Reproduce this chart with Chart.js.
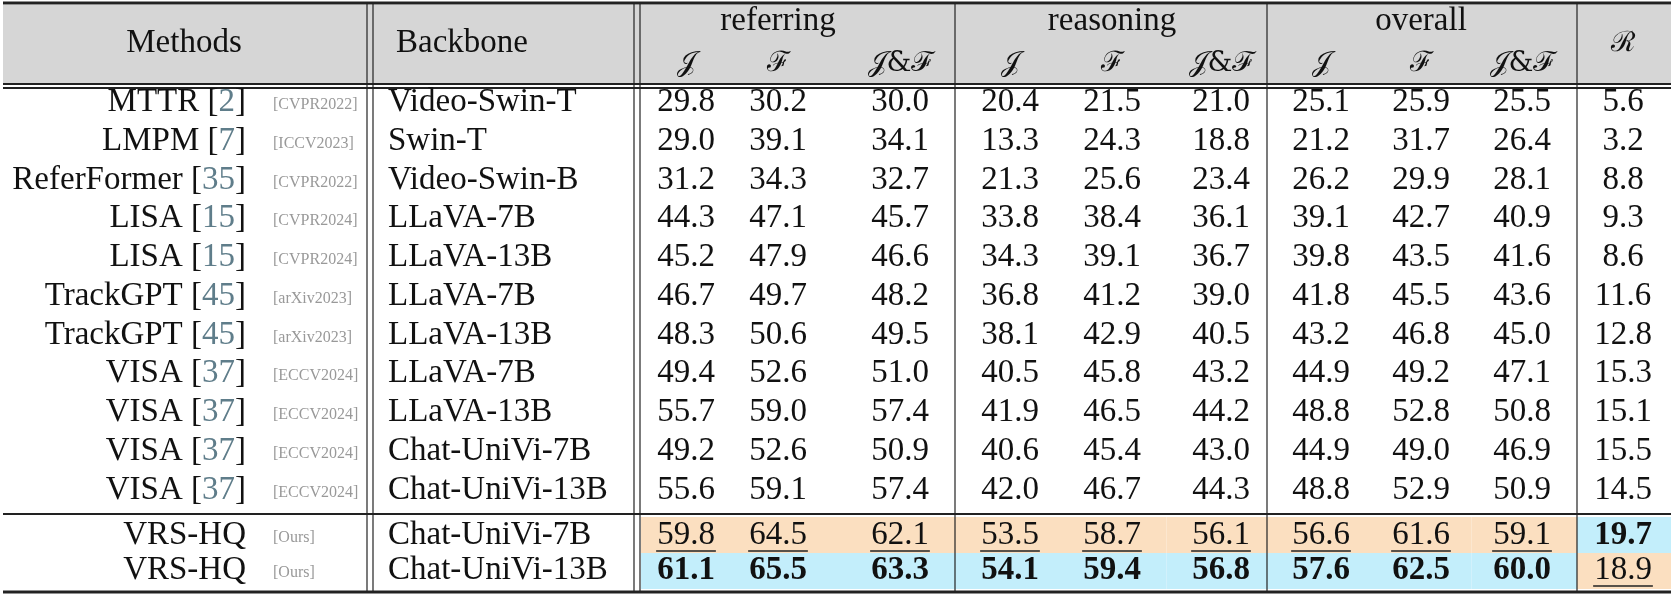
<!DOCTYPE html>
<html>
<head>
<meta charset="utf-8">
<script src="https://cdn.jsdelivr.net/npm/chart.js@4"></script>
<style>
  body { margin: 0; background: #fff; }
  #wrap { width: 1675px; height: 597px; }
</style>
</head>
<body>
<div id="wrap"><canvas id="tabela" width="1675" height="597"></canvas></div>
<script>
// dados da tabela
const metodos = ['MTTR', 'LMPM', 'ReferFormer', 'LISA', 'LISA', 'TrackGPT', 'TrackGPT', 'VISA', 'VISA', 'VISA', 'VISA', 'VRS-HQ', 'VRS-HQ'];
const refs = ['2', '7', '35', '15', '15', '45', '45', '37', '37', '37', '37', '', ''];
const venues = ['CVPR2022', 'ICCV2023', 'CVPR2022', 'CVPR2024', 'CVPR2024', 'arXiv2023', 'arXiv2023', 'ECCV2024', 'ECCV2024', 'ECCV2024', 'ECCV2024', 'Ours', 'Ours'];
const backbones = ['Video-Swin-T', 'Swin-T', 'Video-Swin-B', 'LLaVA-7B', 'LLaVA-13B', 'LLaVA-7B', 'LLaVA-13B', 'LLaVA-7B', 'LLaVA-13B', 'Chat-UniVi-7B', 'Chat-UniVi-13B', 'Chat-UniVi-7B', 'Chat-UniVi-13B'];
const grupos = ['referring', 'reasoning', 'overall'];
const subCols = ['𝒥', 'ℱ', '𝒥&ℱ'];
const referringJ  = [29.8, 29.0, 31.2, 44.3, 45.2, 46.7, 48.3, 49.4, 55.7, 49.2, 55.6, 59.8, 61.1];
const referringF  = [30.2, 39.1, 34.3, 47.1, 47.9, 49.7, 50.6, 52.6, 59.0, 52.6, 59.1, 64.5, 65.5];
const referringJF = [30.0, 34.1, 32.7, 45.7, 46.6, 48.2, 49.5, 51.0, 57.4, 50.9, 57.4, 62.1, 63.3];
const reasoningJ  = [20.4, 13.3, 21.3, 33.8, 34.3, 36.8, 38.1, 40.5, 41.9, 40.6, 42.0, 53.5, 54.1];
const reasoningF  = [21.5, 24.3, 25.6, 38.4, 39.1, 41.2, 42.9, 45.8, 46.5, 45.4, 46.7, 58.7, 59.4];
const reasoningJF = [21.0, 18.8, 23.4, 36.1, 36.7, 39.0, 40.5, 43.2, 44.2, 43.0, 44.3, 56.1, 56.8];
const overallJ  = [25.1, 21.2, 26.2, 39.1, 39.8, 41.8, 43.2, 44.9, 48.8, 44.9, 48.8, 56.6, 57.6];
const overallF  = [25.9, 31.7, 29.9, 42.7, 43.5, 45.5, 46.8, 49.2, 52.8, 49.0, 52.9, 61.6, 62.5];
const overallJF = [25.5, 26.4, 28.1, 40.9, 41.6, 43.6, 45.0, 47.1, 50.8, 46.9, 50.9, 59.1, 60.0];
const rScore = [5.6, 3.2, 8.8, 9.3, 8.6, 11.6, 12.8, 15.3, 15.1, 15.5, 14.5, 19.7, 18.9];

const colunasNum = [referringJ, referringF, referringJF, reasoningJ, reasoningF, reasoningJF, overallJ, overallF, overallJF, rScore];

// layout (unidades do eixo = pixels do quadro)
const colX = [686, 778, 900, 1010, 1112, 1221, 1321, 1421, 1522, 1623];
const rowY = [102, 141, 180, 218, 257, 296, 335, 373, 412, 451, 490, 535, 570];
const SERIF = '"Liberation Serif", "Times New Roman", serif';
const FS = '33px ';
const LARANJA = '#fbdfc0';
const AZUL = '#c3eefb';

function estiloCelula(linha, col) {
    // melhor = negrito/azul, segundo = sublinhado/laranja
    if (linha === 11) return col === 9 ? { bg: AZUL, bold: true } : { bg: LARANJA, under: true };
    if (linha === 12) return col === 9 ? { bg: LARANJA, under: true } : { bg: AZUL, bold: true };
    return {};
}

const desenhaTabela = {
    id: 'desenhaTabela',
    afterDraw(chart) {
        const ctx = chart.ctx;
        const sx = v => chart.scales.x.getPixelForValue(v);
        const sy = v => chart.scales.y.getPixelForValue(v);
        ctx.save();

        // cabeçalho
        ctx.fillStyle = '#d6d6d6';
        ctx.fillRect(sx(3), sy(5), sx(1671) - sx(3), sy(84) - sy(5));

        // fundos destacados
        const faixas = [[517, 553], [553, 589]];
        for (let l = 11; l <= 12; l++) {
            for (let c = 0; c < 10; c++) {
                const st = estiloCelula(l, c);
                const x0 = c === 0 ? 641 : (colX[c - 1] + colX[c]) / 2;
                let x1 = c === 9 ? 1671 : (colX[c] + colX[c + 1]) / 2;
                let xa = x0;
                if (c === 9) xa = 1577;
                if (c === 8) x1 = 1577;
                if (c === 3) xa = 955; if (c === 2) x1 = 955;
                if (c === 6) xa = 1267; if (c === 5) x1 = 1267;
                ctx.fillStyle = st.bg;
                ctx.fillRect(sx(xa), sy(faixas[l - 11][0]), sx(x1) - sx(xa), sy(faixas[l - 11][1]) - sy(faixas[l - 11][0]));
            }
        }

        // linhas
        ctx.strokeStyle = '#222';
        const hline = (y, w) => { ctx.lineWidth = w; ctx.beginPath(); ctx.moveTo(sx(3), sy(y)); ctx.lineTo(sx(1671), sy(y)); ctx.stroke(); };
        const vline = (x, y0, y1, w) => { ctx.lineWidth = w || 1.2; ctx.beginPath(); ctx.moveTo(sx(x), sy(y0)); ctx.lineTo(sx(x), sy(y1)); ctx.stroke(); };
        hline(3, 3);
        hline(84, 2); hline(88, 2);
        hline(514, 2);
        hline(592, 3);
        [367, 373, 634, 640].forEach(x => vline(x, 4, 591));
        [955, 1267, 1577].forEach(x => vline(x, 4, 591));

        ctx.fillStyle = '#111';
        ctx.textBaseline = 'middle';
        ctx.textAlign = 'center';
        ctx.font = FS + SERIF;
        ctx.fillText('Methods', sx(184), sy(43));
        ctx.textAlign = 'left';
        ctx.fillText('Backbone', sx(396), sy(43));
        ctx.textAlign = 'center';
        grupos.forEach((g, i) => ctx.fillText(g, sx(colX[i * 3 + 1]), sy(21)));
        ctx.font = '28px "DejaVu Serif", ' + SERIF;
        for (let i = 0; i < 9; i++) ctx.fillText(subCols[i % 3], sx(colX[i]), sy(64));
        ctx.fillText('ℛ', sx(colX[9]), sy(44));

        // linhas de dados
        metodos.forEach((m, l) => {
            const y = sy(rowY[l]);
            ctx.textAlign = 'right';
            ctx.font = FS + SERIF;
            let xr = sx(246);
            if (refs[l]) {
                ctx.fillStyle = '#111';
                ctx.fillText(']', xr, y);
                xr -= ctx.measureText(']').width;
                ctx.fillStyle = '#5f7d8a';
                ctx.fillText(refs[l], xr, y);
                xr -= ctx.measureText(refs[l]).width;
                ctx.fillStyle = '#111';
                ctx.fillText(m + ' [', xr, y);
            } else {
                ctx.fillStyle = '#111';
                ctx.fillText(m, xr, y);
            }
            ctx.textAlign = 'left';
            ctx.fillStyle = '#999';
            ctx.font = '16px ' + SERIF;
            ctx.fillText('[' + venues[l] + ']', sx(273), y + 3);
            ctx.fillStyle = '#111';
            ctx.font = FS + SERIF;
            ctx.fillText(backbones[l], sx(388), y);

            ctx.textAlign = 'center';
            colunasNum.forEach((col, c) => {
                const st = estiloCelula(l, c);
                ctx.font = (st.bold ? 'bold ' : '') + FS + SERIF;
                const txt = col[l].toFixed(1);
                ctx.fillText(txt, sx(colX[c]), y);
                if (st.under) {
                    const w = ctx.measureText(txt).width;
                    ctx.lineWidth = 1.5;
                    ctx.beginPath();
                    ctx.moveTo(sx(colX[c]) - w / 2 - 1, y + 16);
                    ctx.lineTo(sx(colX[c]) + w / 2 + 1, y + 16);
                    ctx.stroke();
                }
            });
        });
        ctx.restore();
    }
};

new Chart(document.getElementById('tabela'), {
    type: 'scatter',
    data: { datasets: [{ data: [], pointRadius: 0 }] },
    options: {
        responsive: false,
        animation: false,
        layout: { padding: 0 },
        plugins: { legend: { display: false }, tooltip: { enabled: false } },
        scales: {
            x: { type: 'linear', min: 0, max: 1675, display: false },
            y: { type: 'linear', min: 0, max: 597, reverse: true, display: false }
        }
    },
    plugins: [desenhaTabela]
});
</script>
</body>
</html>
